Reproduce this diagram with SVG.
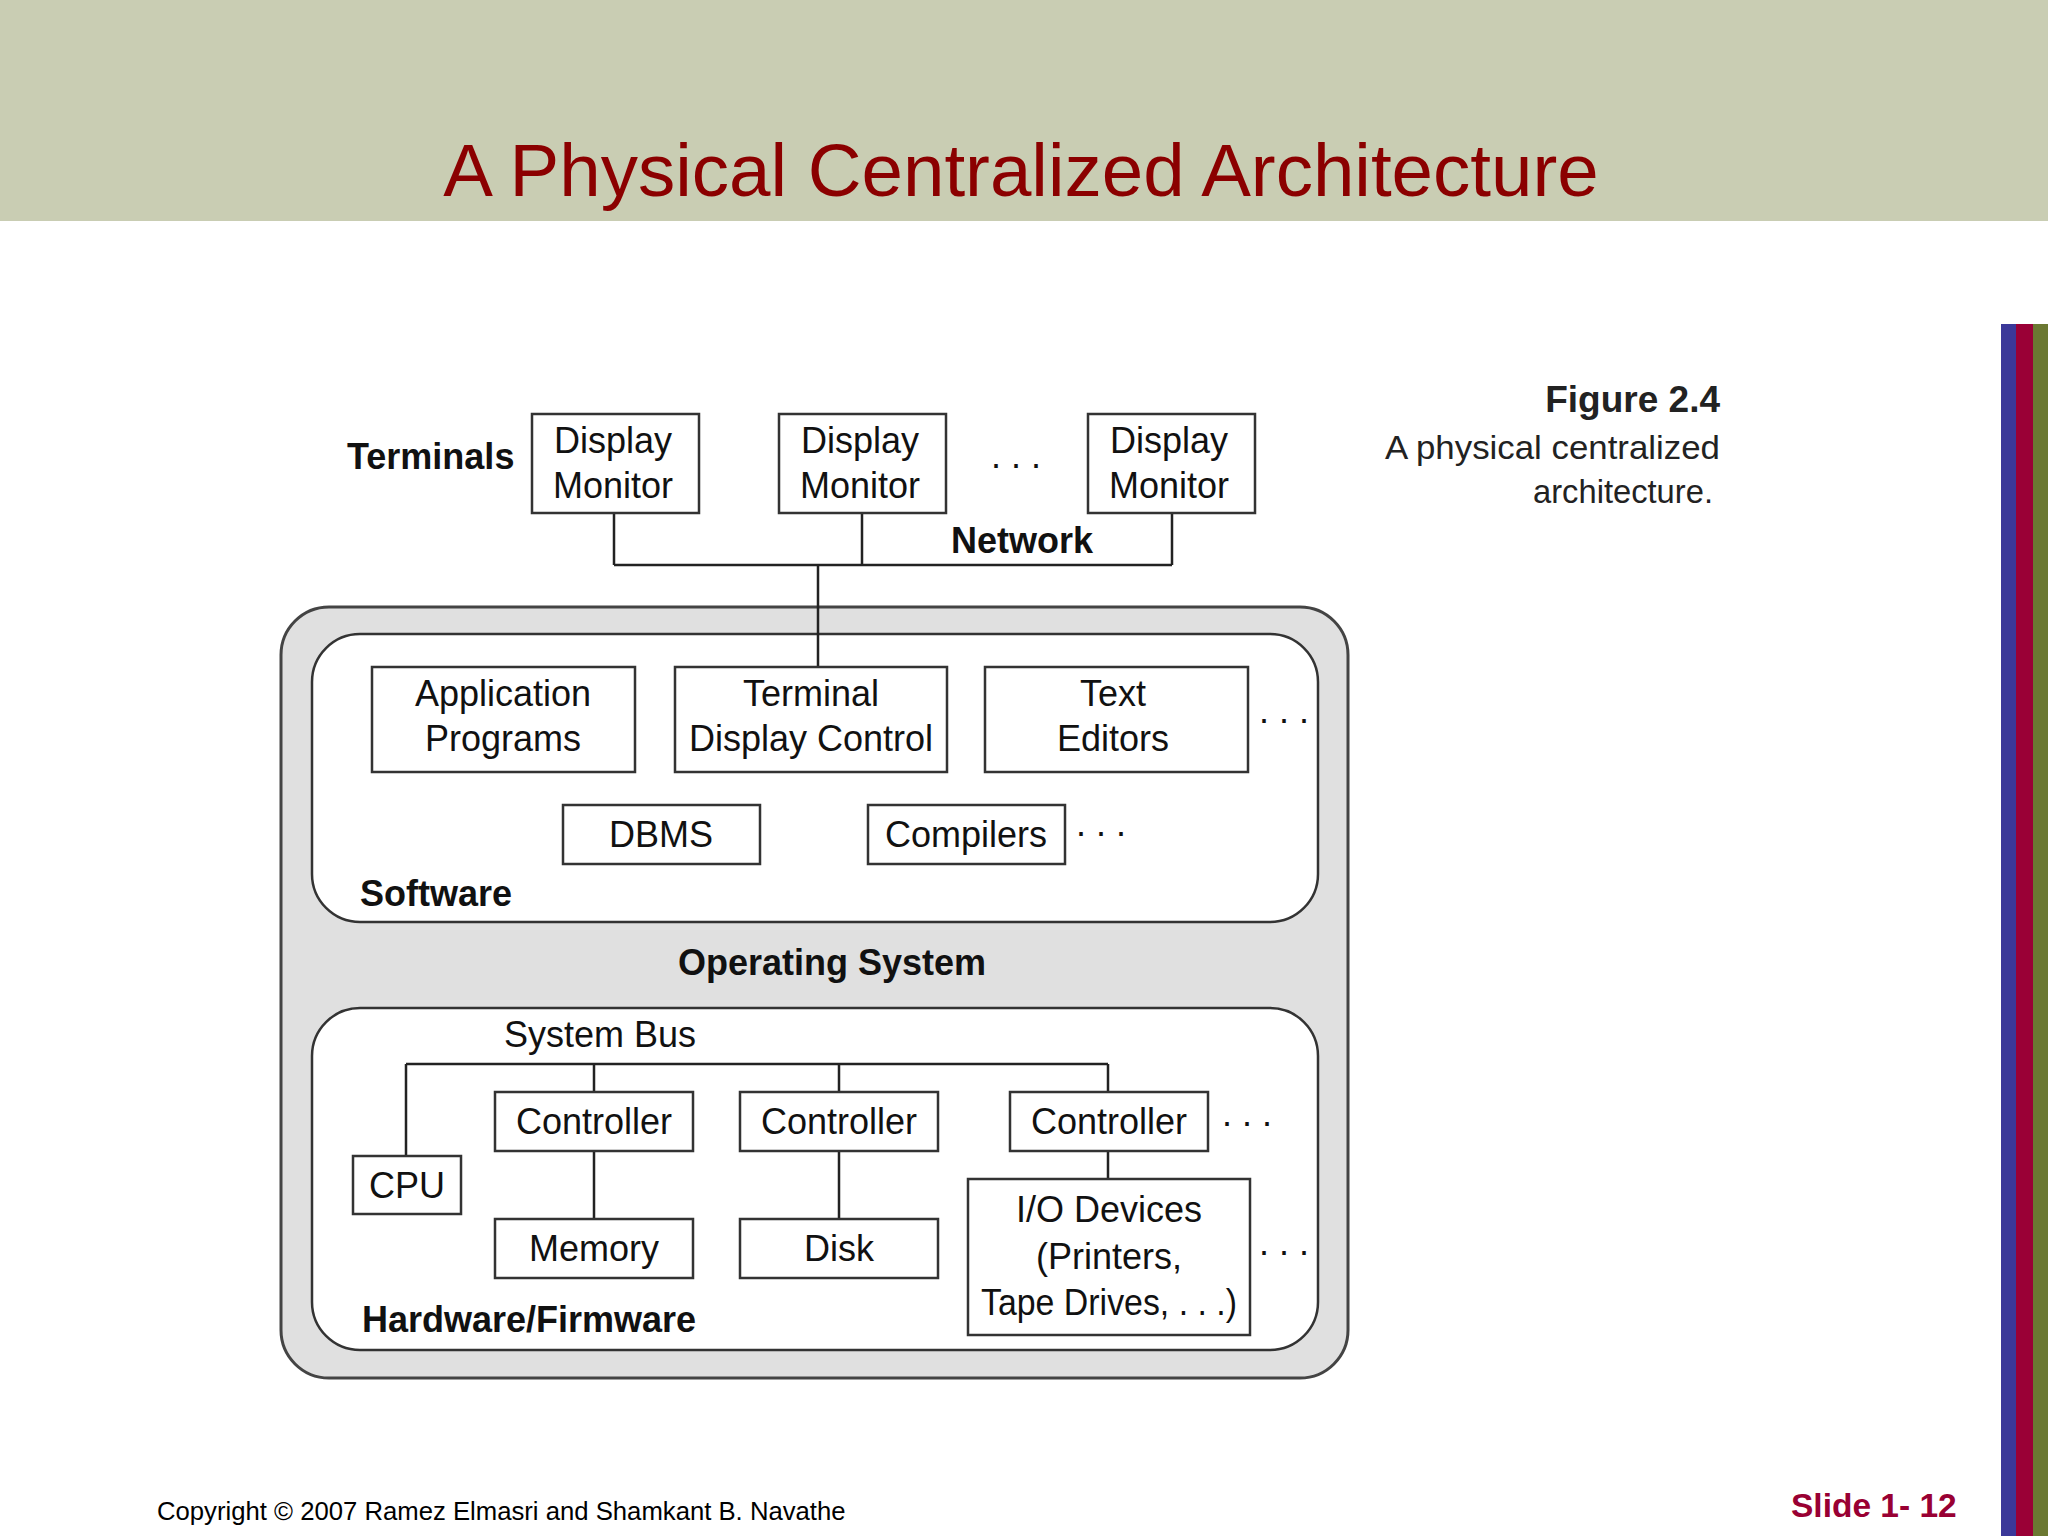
<svg xmlns="http://www.w3.org/2000/svg" width="2048" height="1536" viewBox="0 0 2048 1536">
<style>
.box{fill:#fff;stroke:#333;stroke-width:2.5}
.panel{fill:#fff;stroke:#333;stroke-width:2.5}
.os{fill:#e0e0e0;stroke:#444;stroke-width:3}
.ln{fill:none;stroke:#222;stroke-width:2.5}
.t{font-family:"Liberation Sans",Arial,sans-serif;font-size:36px;fill:#111;text-anchor:middle}
.b{font-family:"Liberation Sans",Arial,sans-serif;font-size:36px;font-weight:bold;fill:#111}
.cap{font-family:"Liberation Sans",Arial,sans-serif;fill:#222}
</style>
<rect x="0" y="0" width="2048" height="221" fill="#c9cdb3"/>
<text x="1021" y="196" font-family="'Liberation Sans',Arial,sans-serif" font-size="74.5" fill="#8b0000" text-anchor="middle">A Physical Centralized Architecture</text>
<rect x="2001" y="324" width="15" height="1212" fill="#3b3899"/>
<rect x="2016" y="324" width="17" height="1212" fill="#9a0036"/>
<rect x="2033" y="324" width="15" height="1212" fill="#6b7832"/>
<text x="157" y="1520" font-family="'Liberation Sans',Arial,sans-serif" font-size="25.7" fill="#000">Copyright © 2007 Ramez Elmasri and Shamkant B. Navathe</text>
<text x="1791" y="1517" font-family="'Liberation Sans',Arial,sans-serif" font-size="33.5" font-weight="bold" fill="#990033">Slide 1- 12</text>

<g id="caption">
<text class="cap" x="1720" y="412" font-size="37" font-weight="bold" fill="#111" text-anchor="end">Figure 2.4</text>
<text class="cap" x="1385" y="459" font-size="33" textLength="335" lengthAdjust="spacingAndGlyphs">A physical centralized</text>
<text class="cap" x="1533" y="503" font-size="33" textLength="180" lengthAdjust="spacingAndGlyphs">architecture.</text>
</g>

<g id="os">
<rect class="os" x="281" y="607" width="1067" height="771" rx="48"/>
<text class="b" x="678" y="975">Operating System</text>
</g>
<g id="software">
<rect class="panel" x="312" y="634" width="1006" height="288" rx="48"/>
<text class="b" x="360" y="906">Software</text>
</g>
<g id="hardware">
<rect class="panel" x="312" y="1008" width="1006" height="342" rx="48"/>
<text class="b" x="362" y="1332">Hardware/Firmware</text>
</g>

<g id="connectors">
<path class="ln" d="M614,513V565M862,513V565M1172,513V565M614,565H1172M818,565V667"/>
<path class="ln" d="M406,1064H1108M406,1064V1156M594,1064V1092M594,1151V1219M839,1064V1092M839,1151V1219M1108,1064V1092M1108,1151V1179"/>
</g>

<g id="terminals-label"><text class="b" x="347" y="469">Terminals</text></g>
<g id="network-label"><text class="b" x="951" y="553">Network</text></g>

<g id="display1">
<rect class="box" x="532" y="414" width="167" height="99"/>
<text class="t" x="613" y="453">Display</text>
<text class="t" x="613" y="498">Monitor</text>
</g>
<g id="display2">
<rect class="box" x="779" y="414" width="167" height="99"/>
<text class="t" x="860" y="453">Display</text>
<text class="t" x="860" y="498">Monitor</text>
</g>
<g id="display3">
<rect class="box" x="1088" y="414" width="167" height="99"/>
<text class="t" x="1169" y="453">Display</text>
<text class="t" x="1169" y="498">Monitor</text>
</g>
<text class="t" x="1016" y="468">. . .</text>

<g id="app">
<rect class="box" x="372" y="667" width="263" height="105"/>
<text class="t" x="503" y="706">Application</text>
<text class="t" x="503" y="751">Programs</text>
</g>
<g id="tdc">
<rect class="box" x="675" y="667" width="272" height="105"/>
<text class="t" x="811" y="706">Terminal</text>
<text class="t" x="811" y="751">Display Control</text>
</g>
<g id="editors">
<rect class="box" x="985" y="667" width="263" height="105"/>
<text class="t" x="1113" y="706">Text</text>
<text class="t" x="1113" y="751">Editors</text>
</g>
<text class="t" x="1284" y="723">. . .</text>
<g id="dbms">
<rect class="box" x="563" y="805" width="197" height="59"/>
<text class="t" x="661" y="847">DBMS</text>
</g>
<g id="compilers">
<rect class="box" x="868" y="805" width="197" height="59"/>
<text class="t" x="966" y="847">Compilers</text>
</g>
<text class="t" x="1101" y="836">. . .</text>

<g id="sysbus-label"><text class="t" x="600" y="1047">System Bus</text></g>
<g id="cpu">
<rect class="box" x="353" y="1156" width="108" height="58"/>
<text class="t" x="407" y="1198">CPU</text>
</g>
<g id="ctrl1">
<rect class="box" x="495" y="1092" width="198" height="59"/>
<text class="t" x="594" y="1134">Controller</text>
</g>
<g id="ctrl2">
<rect class="box" x="740" y="1092" width="198" height="59"/>
<text class="t" x="839" y="1134">Controller</text>
</g>
<g id="ctrl3">
<rect class="box" x="1010" y="1092" width="198" height="59"/>
<text class="t" x="1109" y="1134">Controller</text>
</g>
<text class="t" x="1247" y="1126">. . .</text>
<g id="memory">
<rect class="box" x="495" y="1219" width="198" height="59"/>
<text class="t" x="594" y="1261">Memory</text>
</g>
<g id="disk">
<rect class="box" x="740" y="1219" width="198" height="59"/>
<text class="t" x="839" y="1261">Disk</text>
</g>
<g id="io">
<rect class="box" x="968" y="1179" width="282" height="156"/>
<text class="t" x="1109" y="1222">I/O Devices</text>
<text class="t" x="1109" y="1269">(Printers,</text>
<text class="t" x="1109" y="1315" textLength="256" lengthAdjust="spacingAndGlyphs">Tape Drives, . . .)</text>
</g>
<text class="t" x="1284" y="1255">. . .</text>
</svg>
